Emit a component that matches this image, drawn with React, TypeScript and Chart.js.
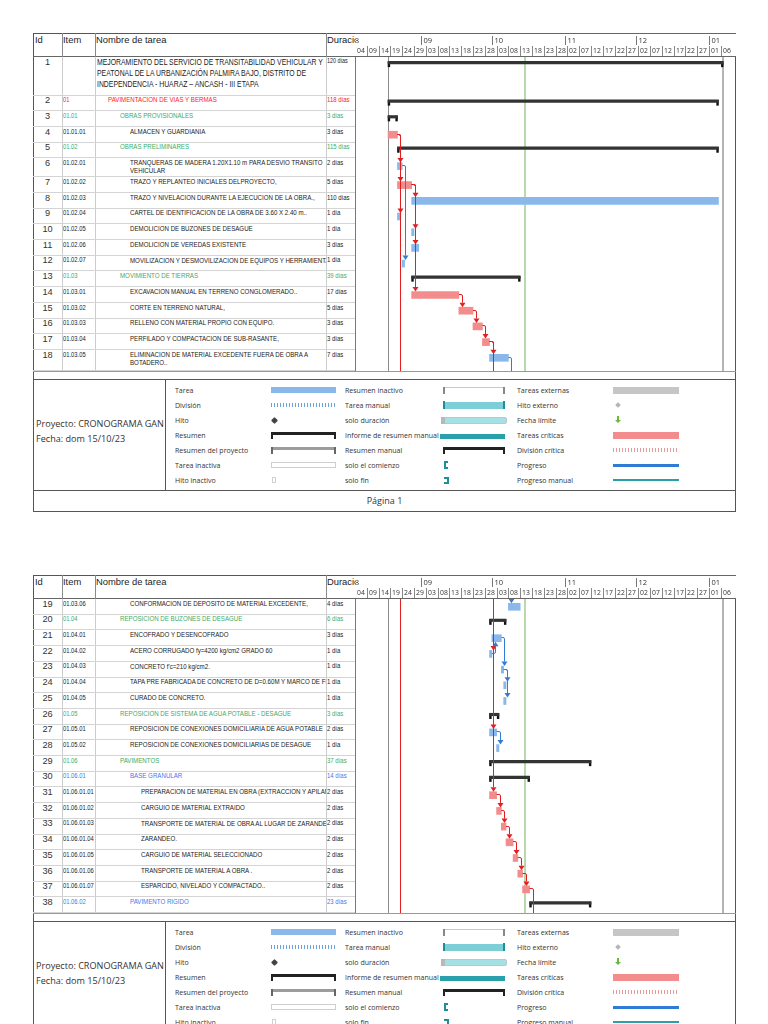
import React, { useEffect, useRef } from 'react';
import { Chart, registerables } from 'chart.js';
Chart.register(...registerables);

// ------------------------------------------------------------------ DATA
const taskIds = [1, 2, 3, 4, 5, 6, 7, 8, 9, 10, 11, 12, 13, 14, 15, 16, 17, 18, 19, 20, 21, 22, 23, 24, 25, 26, 27, 28, 29, 30, 31, 32, 33, 34, 35, 36, 37, 38];
const taskItems = ['', '01', '01.01', '01.01.01', '01.02', '01.02.01', '01.02.02', '01.02.03', '01.02.04', '01.02.05', '01.02.06', '01.02.07', '01.03', '01.03.01', '01.03.02', '01.03.03', '01.03.04', '01.03.05', '01.03.06', '01.04', '01.04.01', '01.04.02', '01.04.03', '01.04.04', '01.04.05', '01.05', '01.05.01', '01.05.02', '01.06', '01.06.01', '01.06.01.01', '01.06.01.02', '01.06.01.03', '01.06.01.04', '01.06.01.05', '01.06.01.06', '01.06.01.07', '01.06.02'];
const taskNames = [
  'MEJORAMIENTO DEL SERVICIO DE TRANSITABILIDAD VEHICULAR Y\nPEATONAL DE LA URBANIZACIÓN PALMIRA BAJO, DISTRITO DE\nINDEPENDENCIA - HUARAZ – ANCASH - III ETAPA',
  'PAVIMENTACION DE VIAS Y BERMAS',
  'OBRAS PROVISIONALES',
  'ALMACEN Y GUARDIANIA',
  'OBRAS PRELIMINARES',
  'TRANQUERAS DE MADERA 1.20X1.10 m PARA DESVIO TRANSITO\nVEHICULAR',
  'TRAZO Y REPLANTEO INICIALES DELPROYECTO,',
  'TRAZO Y NIVELACION DURANTE LA EJECUCION DE LA OBRA.,',
  'CARTEL DE IDENTIFICACION DE LA OBRA DE 3.60 X 2.40 m..',
  'DEMOLICION DE BUZONES DE DESAGUE',
  'DEMOLICION DE VEREDAS EXISTENTE',
  'MOVILIZACION Y DESMOVILIZACION DE EQUIPOS Y HERRAMIENTAS',
  'MOVIMIENTO DE TIERRAS',
  'EXCAVACION MANUAL EN TERRENO CONGLOMERADO..',
  'CORTE EN TERRENO NATURAL,',
  'RELLENO CON MATERIAL PROPIO CON EQUIPO.',
  'PERFILADO Y COMPACTACION DE SUB-RASANTE,',
  'ELIMINACION DE MATERIAL EXCEDENTE FUERA DE OBRA A\nBOTADERO..',
  'CONFORMACION DE DEPOSITO DE MATERIAL EXCEDENTE,',
  'REPOSICION DE BUZONES DE DESAGUE',
  'ENCOFRADO Y DESENCOFRADO',
  'ACERO CORRUGADO fy=4200 kg/cm2 GRADO 60',
  "CONCRETO f'c=210 kg/cm2.",
  'TAPA PRE FABRICADA DE CONCRETO DE D=0.60M Y MARCO DE FIERRO',
  'CURADO DE CONCRETO.',
  'REPOSICION DE SISTEMA DE AGUA POTABLE - DESAGUE',
  'REPOSICION DE CONEXIONES DOMICILIARIA DE AGUA POTABLE',
  'REPOSICION DE CONEXIONES DOMICILIARIAS DE DESAGUE',
  'PAVIMENTOS',
  'BASE GRANULAR',
  'PREPARACION DE MATERIAL EN OBRA (EXTRACCION Y APILAMIENTO)',
  'CARGUIO DE MATERIAL EXTRAIDO',
  'TRANSPORTE DE MATERIAL DE OBRA AL LUGAR DE ZARANDEO',
  'ZARANDEO.',
  'CARGUIO DE MATERIAL SELECCIONADO',
  'TRANSPORTE DE MATERIAL A OBRA .',
  'ESPARCIDO, NIVELADO Y COMPACTADO..',
  'PAVIMENTO RIGIDO',
];
const taskDurations = ['120 días', '118 días', '3 días', '3 días', '115 días', '2 días', '5 días', '110 días', '1 día', '1 día', '3 días', '1 día', '39 días', '17 días', '5 días', '3 días', '3 días', '7 días', '4 días', '6 días', '3 días', '1 día', '1 día', '1 día', '1 día', '3 días', '2 días', '1 día', '37 días', '14 días', '2 días', '2 días', '2 días', '2 días', '2 días', '2 días', '2 días', '23 días'];
const taskLevels = [1, 2, 3, 4, 3, 4, 4, 4, 4, 4, 4, 4, 3, 4, 4, 4, 4, 4, 4, 3, 4, 4, 4, 4, 4, 3, 4, 4, 3, 4, 5, 5, 5, 5, 5, 5, 5, 4];
const taskIsSummary = [true, true, true, false, true, false, false, false, false, false, false, false, true, false, false, false, false, false, false, true, false, false, false, false, false, true, false, false, true, true, false, false, false, false, false, false, false, true];
const taskCritical = [false, false, false, true, false, false, true, false, false, false, false, false, false, true, true, true, true, false, false, false, false, false, false, false, false, false, false, false, false, false, true, true, true, true, true, true, true, false];
const taskStarts = ['2023-08-18', '2023-08-18', '2023-08-18', '2023-08-18', '2023-08-22', '2023-08-22', '2023-08-22', '2023-08-28', '2023-08-22', '2023-08-28', '2023-08-28', '2023-08-24', '2023-08-28', '2023-08-28', '2023-09-17', '2023-09-23', '2023-09-27', '2023-09-30', '2023-10-08', '2023-09-30', '2023-10-01', '2023-09-30', '2023-10-05', '2023-10-06', '2023-10-06', '2023-09-30', '2023-09-30', '2023-10-03', '2023-09-30', '2023-09-30', '2023-09-30', '2023-10-03', '2023-10-05', '2023-10-07', '2023-10-10', '2023-10-12', '2023-10-14', '2023-10-17'];
const taskFinishes = ['2024-01-07', '2024-01-05', '2023-08-22', '2023-08-22', '2024-01-05', '2023-08-24', '2023-08-28', '2024-01-05', '2023-08-23', '2023-08-29', '2023-08-31', '2023-08-25', '2023-10-13', '2023-09-17', '2023-09-23', '2023-09-27', '2023-09-30', '2023-10-08', '2023-10-13', '2023-10-07', '2023-10-05', '2023-10-01', '2023-10-06', '2023-10-07', '2023-10-07', '2023-10-04', '2023-10-03', '2023-10-04', '2023-11-12', '2023-10-17', '2023-10-03', '2023-10-05', '2023-10-07', '2023-10-10', '2023-10-12', '2023-10-14', '2023-10-17', '2023-11-12'];
// predecessor -> successor (null: successor lies on a later page)
const taskLinks: [number, number | null][] = [
  [4, 6], [4, 7], [4, 9], [4, null], [6, 12], [7, 8], [7, 10], [7, 11], [7, 14],
  [14, 15], [15, 16], [16, 17], [17, 18], [17, 22], [17, 27], [17, 31], [18, 19],
  [22, 21], [21, 23], [23, 24], [23, 25], [27, 28],
  [31, 32], [32, 33], [33, 34], [34, 35], [35, 36], [36, 37], [37, null],
];
const timelineStart = '2023-08-04';
const statusDate = '2023-10-15';
const monthTickDates = ['2023-08-01', '2023-09-01', '2023-10-01', '2023-11-01', '2023-12-01', '2024-01-01'];
const monthTickLabels = ['08', '09', '10', '11', '12', '01'];
const dayTickLabels = ['04', '09', '14', '19', '24', '29', '03', '08', '13', '18', '23', '28', '03', '08', '13', '18', '23', '28', '02', '07', '12', '17', '22', '27', '02', '07', '12', '17', '22', '27', '01', '06'];
const dayTickStep = 5;
const headerLabels = ['Id', 'Item', 'Nombre de tarea', 'Duración'];
const legendCol1 = ['Tarea', 'División', 'Hito', 'Resumen', 'Resumen del proyecto', 'Tarea inactiva', 'Hito inactivo'];
const legendCol2 = ['Resumen inactivo', 'Tarea manual', 'solo duración', 'Informe de resumen manual', 'Resumen manual', 'solo el comienzo', 'solo fin'];
const legendCol3 = ['Tareas externas', 'Hito externo', 'Fecha límite', 'Tareas críticas', 'División crítica', 'Progreso', 'Progreso manual'];
const projectLabel = 'Proyecto: CRONOGRAMA GAN';
const dateLabel = 'Fecha: dom 15/10/23';

// ------------------------------------------------------------------ LAYOUT / STYLE
const FONT_T = '"Liberation Sans", Arial, Helvetica, sans-serif';
const FONT_L = '"Open Sans", "Noto Sans", sans-serif';
const PX_PER_DAY = 2.36;
const GANTT_X = 355;
const GANTT_W = 381;
const HEADER_H = 24;
const ROWS_H = 314;
const C_TASK = '#8ab8ea';
const C_CRIT = '#f38c8c';
const C_LINK_RED = '#e31e1e';
const C_LINK_BLUE = '#2f7dd6';
const C_SUM = '#333333';
const C_TEXT = '#222';

const T0 = (() => { const [y, m, d] = timelineStart.split('-').map(Number); return Date.UTC(y, m - 1, d); })();
const dayOf = (iso: string) => { const [y, m, d] = iso.split('-').map(Number); return (Date.UTC(y, m - 1, d) - T0) / 86400000; };
const rowHeight = (id: number) => (id === 1 ? 38.5 : id === 6 ? 19 : id === 18 ? 21 : 15.7);
function rowTops(ids: number[]) {
  const m: Record<number, number> = {};
  let t = 0;
  ids.forEach((id) => { m[id] = t; t += rowHeight(id); });
  return m;
}
function textColor(i: number) {
  if (!taskIsSummary[i]) return C_TEXT;
  const l = taskLevels[i];
  return l === 2 ? '#ff2020' : l === 3 ? '#3dab66' : l === 4 ? '#4577f0' : C_TEXT;
}

// ------------------------------------------------------------------ CHART
function GanttChart({ ids, top }: { ids: number[]; top: number }) {
  const ref = useRef<HTMLCanvasElement>(null);
  useEffect(() => {
    const tops = rowTops(ids);
    const tasks: any[] = []; const taskColors: string[] = [];
    const sums: any[] = []; const caps: any[] = [];
    ids.forEach((id) => {
      const i = id - 1; const t = tops[id];
      const s = dayOf(taskStarts[i]); const e = dayOf(taskFinishes[i]);
      if (taskIsSummary[i]) {
        sums.push({ x: [s, e], y: t + 5.6 });
        caps.push({ x: [s, s + 0.75], y: t + 7.3 });
        caps.push({ x: [e - 0.75, e], y: t + 7.3 });
      } else {
        tasks.push({ x: [s, e], y: t + 7.8 });
        taskColors.push(taskCritical[i] ? C_CRIT : C_TASK);
      }
    });
    const first = ids[0]; const last = ids[ids.length - 1];

    const gridPlugin = {
      id: 'ganttGrid',
      beforeDatasetsDraw(chart: any) {
        const { ctx, chartArea: ca, scales: { x } } = chart;
        ctx.save();
        const vline = (d: number, color: string, w: number) => {
          const px = Math.round(x.getPixelForValue(d)) + (w % 2 ? 0.5 : 0);
          ctx.strokeStyle = color; ctx.lineWidth = w;
          ctx.beginPath(); ctx.moveTo(px, ca.top); ctx.lineTo(px, ca.bottom); ctx.stroke();
        };
        vline(dayOf(taskStarts[0]), '#8c8c8c', 1);
        vline(dayOf(taskFinishes[0]), '#b4b4b4', 2);
        vline(dayOf(statusDate), '#b7d9ab', 2);
        ctx.restore();
      },
    };

    const linkPlugin = {
      id: 'ganttLinks',
      afterDatasetsDraw(chart: any) {
        const { ctx, chartArea: ca, scales: { x, y } } = chart;
        ctx.save();
        ctx.beginPath(); ctx.rect(ca.left, ca.top, ca.width, ca.height); ctx.clip();
        ctx.lineWidth = 1;
        taskLinks.forEach(([from, to]) => {
          const fi = from - 1;
          const toId = to === null ? 9999 : to;
          const pEnd = x.getPixelForValue(dayOf(taskFinishes[fi]));
          const sStart = to === null ? pEnd : x.getPixelForValue(dayOf(taskStarts[to - 1]));
          const vx = Math.round(Math.max(pEnd, sStart) + 3) + 0.5;
          const color = taskCritical[fi] ? C_LINK_RED : C_LINK_BLUE;
          const fromPos = from < first ? -1 : from > last ? 1 : 0;
          const toPos = toId < first ? -1 : toId > last ? 1 : 0;
          if (fromPos !== 0 && fromPos === toPos) return;
          ctx.strokeStyle = color; ctx.fillStyle = color;
          const down = toId > from;
          const yc = (id: number) => y.getPixelForValue(tops[id] + 7.8);
          ctx.beginPath();
          if (fromPos === 0) {
            const py = Math.round(yc(from)) - 0.5;
            ctx.moveTo(pEnd, py); ctx.lineTo(vx - 1.5, py); ctx.quadraticCurveTo(vx, py, vx, py + (down ? 1.5 : -1.5));
          } else {
            ctx.moveTo(vx, down ? ca.top : ca.bottom);
          }
          if (toPos === 0) {
            const barEdge = down ? yc(toId) - 3.5 : yc(toId) + 3.5;
            const y2 = down ? barEdge - 4.5 : barEdge + 4.5;
            ctx.lineTo(vx, y2); ctx.stroke();
            ctx.beginPath();
            ctx.moveTo(vx - 3, y2); ctx.lineTo(vx + 3, y2); ctx.lineTo(vx, barEdge); ctx.closePath(); ctx.fill();
          } else {
            ctx.lineTo(vx, down ? ca.bottom : ca.top); ctx.stroke();
          }
        });
        ctx.restore();
      },
    };

    const headerPlugin = {
      id: 'ganttHeader',
      afterDraw(chart: any) {
        const { ctx, chartArea: ca, scales: { x } } = chart;
        const W = chart.width; const H = ca.top;
        ctx.save();
        ctx.fillStyle = '#fff'; ctx.fillRect(0, 0, W, H);
        ctx.strokeStyle = '#666'; ctx.lineWidth = 1;
        const seg = (x1: number, y1: number, x2: number, y2: number) => { ctx.beginPath(); ctx.moveTo(x1, y1); ctx.lineTo(x2, y2); ctx.stroke(); };
        seg(0, 0.5, W, 0.5);
        seg(0, H - 0.5, W, H - 0.5);
        ctx.fillStyle = '#333'; ctx.textBaseline = 'middle'; ctx.textAlign = 'left';
        ctx.font = `7.5px ${FONT_L}`;
        monthTickDates.forEach((d, k) => {
          const px = Math.round(x.getPixelForValue(dayOf(d))) + 0.5;
          ctx.strokeStyle = '#777';
          seg(px, 3, px, 12);
          ctx.fillText(monthTickLabels[k], px + 2, 7.5);
        });
        ctx.font = `6.8px ${FONT_L}`;
        dayTickLabels.forEach((lab, k) => {
          const px = Math.round(x.getPixelForValue(k * dayTickStep)) + 0.5;
          ctx.strokeStyle = '#888';
          if (k > 0) seg(px, 13, px, H - 1);
          ctx.fillText(lab, px + 1.5, 18.5);
        });
        ctx.restore();
      },
    };

    const chart = new Chart(ref.current as HTMLCanvasElement, {
      type: 'bar',
      data: {
        datasets: [
          { data: sums as any, backgroundColor: C_SUM, barThickness: 2.5, grouped: false, borderWidth: 0 } as any,
          { data: caps as any, backgroundColor: '#111', barThickness: 5, grouped: false, borderWidth: 0 } as any,
          { data: tasks as any, backgroundColor: taskColors, barThickness: 7, grouped: false, borderWidth: 0 } as any,
        ],
      },
      options: {
        animation: false,
        responsive: false,
        maintainAspectRatio: false,
        indexAxis: 'y',
        layout: { padding: { top: HEADER_H, left: 0, right: 0, bottom: 0 } },
        scales: {
          x: { type: 'linear', min: 0, max: GANTT_W / PX_PER_DAY, display: false },
          y: { type: 'linear', min: 0, max: ROWS_H, reverse: true, display: false, offset: false },
        },
        plugins: { legend: { display: false }, tooltip: { enabled: false } },
      } as any,
      plugins: [gridPlugin, linkPlugin, headerPlugin],
    });
    return () => chart.destroy();
  }, [ids]);
  return (
    <canvas ref={ref} width={GANTT_W} height={HEADER_H + ROWS_H}
      style={{ position: 'absolute', left: GANTT_X, top, width: GANTT_W, height: HEADER_H + ROWS_H }} />
  );
}

// ------------------------------------------------------------------ HTML PARTS
const abs = (x: number, y: number, w: number, h: number, s: any = {}) => ({ position: 'absolute' as const, left: x, top: y, width: w, height: h, ...s });

function Txt({ x, y, children, size, color = C_TEXT, sx = 1, font = FONT_T, w, align }: any) {
  const L = Math.ceil(size * 1.3);
  return (
    <div style={{ position: 'absolute', left: x, top: y - L / 2, height: L, width: w, textAlign: align, lineHeight: `${L}px`, fontFamily: font, fontSize: size, color, whiteSpace: 'nowrap', transform: sx !== 1 ? `scaleX(${sx})` : undefined, transformOrigin: '0 50%' }}>{children}</div>
  );
}
const HL = (x1: number, x2: number, y: number, c: string, k: string) => <div key={k} style={abs(x1, y, x2 - x1, 1, { background: c })} />;
const VL = (x: number, y1: number, y2: number, c: string, k: string) => <div key={k} style={abs(x, y1, 1, y2 - y1, { background: c })} />;

function bracket(x1: number, x2: number, cy: number, line: string, cap: string, th: number, k: string) {
  return [
    <div key={k + 'l'} style={abs(x1, cy - 3, x2 - x1, th, { background: line })} />,
    <div key={k + 'a'} style={abs(x1, cy - 3, 2, 7, { background: cap })} />,
    <div key={k + 'b'} style={abs(x2 - 2, cy - 3, 2, 7, { background: cap })} />,
  ];
}

function swatch(col: number, row: number, x1: number, x2: number, cy: number, k: string): any {
  const w = x2 - x1;
  if (col === 0) {
    switch (row) {
      case 0: return <div key={k} style={abs(x1, cy - 3, w, 6, { background: C_TASK })} />;
      case 1: return <div key={k} style={abs(x1, cy - 2, w, 4, { background: 'repeating-linear-gradient(90deg, #6d9fd9 0 1px, transparent 1px 3px)' })} />;
      case 2: return <div key={k} style={abs(x1 + 1, cy - 2.5, 5, 5, { background: '#444', transform: 'rotate(45deg)', borderRadius: 1 })} />;
      case 3: return bracket(x1, x2, cy, '#222', '#222', 2.5, k);
      case 4: return bracket(x1, x2, cy, '#9c9c9c', '#666', 2.5, k);
      case 5: return <div key={k} style={abs(x1, cy - 3, w, 6, { border: '1px solid #cfcfcf', boxSizing: 'border-box', background: '#fff' })} />;
      default: return <div key={k} style={abs(x1 + 1, cy - 3, 4, 6, { border: '1px solid #d0d0d0', boxSizing: 'border-box' })} />;
    }
  }
  if (col === 1) {
    switch (row) {
      case 0: return bracket(x1, x2, cy, '#c8c8c8', '#888', 1, k);
      case 1: return [
        <div key={k} style={abs(x1, cy - 3.5, w, 7, { background: '#7ccfd6' })} />,
        <div key={k + 'a'} style={abs(x1, cy - 4, 2, 8, { background: '#1f8e98' })} />,
        <div key={k + 'b'} style={abs(x2 - 2, cy - 4, 2, 8, { background: '#1f8e98' })} />,
      ];
      case 2: return [
        <div key={k} style={abs(x1 - 2, cy - 3.5, w + 4, 7, { background: '#a5e0e5', border: '1px solid #c4c4c4', boxSizing: 'border-box', borderRadius: 2 })} />,
        <div key={k + 'a'} style={abs(x1 - 2, cy - 3.5, 4, 7, { background: '#b8b8b8' })} />,
      ];
      case 3: return <div key={k} style={abs(x1 - 3, cy - 1, w + 3, 5, { background: '#2aa1aa' })} />;
      case 4: return bracket(x1, x2, cy, '#222', '#222', 2.5, k);
      case 5: return [
        <div key={k} style={abs(x1 + 1, cy - 4, 2, 8, { background: '#1f8e98' })} />,
        <div key={k + 'a'} style={abs(x1 + 1, cy - 4, 4, 2, { background: '#1f8e98' })} />,
        <div key={k + 'b'} style={abs(x1 + 1, cy + 2, 4, 2, { background: '#1f8e98' })} />,
      ];
      default: return [
        <div key={k} style={abs(x1 + 4, cy - 3, 2, 7, { background: '#1f8e98' })} />,
        <div key={k + 'a'} style={abs(x1 + 1, cy - 3, 4, 2, { background: '#1f8e98' })} />,
        <div key={k + 'b'} style={abs(x1 + 1, cy + 2, 4, 2, { background: '#1f8e98' })} />,
      ];
    }
  }
  switch (row) {
    case 0: return <div key={k} style={abs(x1, cy - 3.5, w, 7, { background: '#c6c6c6' })} />;
    case 1: return <div key={k} style={abs(x1 + 3, cy - 2, 4, 4, { background: '#b5b5b5', transform: 'rotate(45deg)' })} />;
    case 2: return [
      <div key={k} style={abs(x1 + 4, cy - 4, 2, 5, { background: '#66bb3e' })} />,
      <div key={k + 'a'} style={abs(x1 + 2, cy, 6, 3, { background: '#66bb3e', clipPath: 'polygon(0 0, 100% 0, 50% 100%)' })} />,
    ];
    case 3: return <div key={k} style={abs(x1, cy - 3.5, w, 7, { background: C_CRIT })} />;
    case 4: return <div key={k} style={abs(x1, cy - 2, w, 4, { background: 'repeating-linear-gradient(90deg, #e79a9a 0 1px, transparent 1px 3px)' })} />;
    case 5: return <div key={k} style={abs(x1, cy - 1, w, 3, { background: '#2f7bd5' })} />;
    default: return <div key={k} style={abs(x1, cy - 1, w, 2, { background: '#2aa1aa' })} />;
  }
}

function Page({ ids, top, legendTop, bottom, pageLabel }: { ids: number[]; top: number; legendTop: number; bottom: number; pageLabel?: string }) {
  const els: any[] = [];
  const rowsTop = top + HEADER_H;
  const tableBottom = rowsTop + ROWS_H;
  const tops = rowTops(ids);
  els.push(<div key="frame" style={abs(33, top, 703, bottom - top, { border: '1px solid #555', boxSizing: 'border-box' })} />);
  const hx = [35, 63, 96, 327];
  headerLabels.forEach((h, k) => {
    els.push(
      <div key={'h' + k} style={abs(hx[k] - 1, top + 1, k === 3 ? 29 : 200, 14, { overflow: 'hidden' })}>
        <Txt x={1} y={5} size={9.4}>{h}</Txt>
      </div>
    );
  });
  els.push(HL(33, 355, top + HEADER_H - 1, '#666', 'hb'));
  [62, 95, 326].forEach((x, k) => {
    els.push(VL(x, top, rowsTop, '#8a8a8a', 'ch' + k));
    els.push(VL(x, rowsTop, tableBottom, '#cccccc', 'cr' + k));
  });
  els.push(VL(355, top, tableBottom, '#777', 'gdiv'));
  ids.forEach((id) => {
    const i = id - 1;
    const t = rowsTop + tops[id];
    const h = rowHeight(id);
    const col = textColor(i);
    els.push(HL(33, 355, Math.round(t + h) - 1, '#d4d4d4', 'rl' + id));
    els.push(<Txt key={'id' + id} x={33} w={29} align="center" y={t + 4.6} size={9.2} color="#333">{taskIds[i]}</Txt>);
    els.push(
      <div key={'it' + id} style={abs(62, t, 33, h, { overflow: 'hidden' })}>
        <Txt x={1} y={4.6} size={7.1} sx={0.82} color={col}>{taskItems[i]}</Txt>
      </div>
    );
    const lines = taskNames[i].split('\n');
    const indent = [0, 97, 108, 120, 130, 141][taskLevels[i]] - 95;
    els.push(
      <div key={'nm' + id} style={abs(95, t, 231, h, { overflow: 'hidden' })}>
        {lines.map((ln, k) => (
          <Txt key={k} x={indent} y={id === 1 ? 5 + 11 * k : 4.7 + 8 * k} size={id === 1 ? 8.4 : 7.5} sx={0.82} color={col}>{ln}</Txt>
        ))}
      </div>
    );
    els.push(
      <div key={'du' + id} style={abs(326, t, 29, h, { overflow: 'hidden' })}>
        <Txt x={1} y={id === 1 ? 3.6 : 4.6} size={id === 1 ? 6.6 : 7.3} sx={0.82} color={col}>{taskDurations[i]}</Txt>
      </div>
    );
  });
  els.push(HL(33, 736, tableBottom, '#999', 'tb'));
  const lb = legendTop + 111;
  els.push(HL(33, 736, legendTop, '#555', 'lt'));
  els.push(HL(33, 736, lb, '#555', 'lbb'));
  els.push(VL(165, legendTop, lb, '#555', 'lpd'));
  els.push(<Txt key="pj" x={36} y={legendTop + 44} size={9.4} font={FONT_L} sx={0.97} color="#333">{projectLabel}</Txt>);
  els.push(<Txt key="fd" x={36} y={legendTop + 59} size={9.4} font={FONT_L} sx={0.97} color="#333">{dateLabel}</Txt>);
  const cols = [
    { labels: legendCol1, lx: 175, s1: 271, s2: 336 },
    { labels: legendCol2, lx: 345, s1: 443, s2: 505 },
    { labels: legendCol3, lx: 517, s1: 613, s2: 679 },
  ];
  cols.forEach((c, ci) => {
    c.labels.forEach((lab, r) => {
      const cy = legendTop + 11 + 15 * r;
      els.push(<Txt key={`lg${ci}-${r}`} x={c.lx} y={cy} size={7.4} font={FONT_L} sx={0.95} color="#333">{lab}</Txt>);
      const s = swatch(ci, r, c.s1, c.s2, cy, `sw${ci}-${r}`);
      if (Array.isArray(s)) els.push(...s); else els.push(s);
    });
  });
  if (pageLabel) {
    els.push(<Txt key="pg" x={33} w={703} align="center" y={lb + 11} size={9} font={FONT_L} color="#333">{pageLabel}</Txt>);
  }
  return (
    <>
      {els}
      <GanttChart ids={ids} top={top} />
    </>
  );
}

const PAGE1 = taskIds.slice(0, 18);
const PAGE2 = taskIds.slice(18);

export default function App() {
  return (
    <div style={{ position: 'fixed', left: 0, top: 0, width: 768, height: 1024, overflow: 'hidden', background: '#fff' }}>
      <Page ids={PAGE1} top={33} legendTop={379} bottom={512} pageLabel="Página 1" />
      <Page ids={PAGE2} top={575} legendTop={921} bottom={1100} />
    </div>
  );
}
